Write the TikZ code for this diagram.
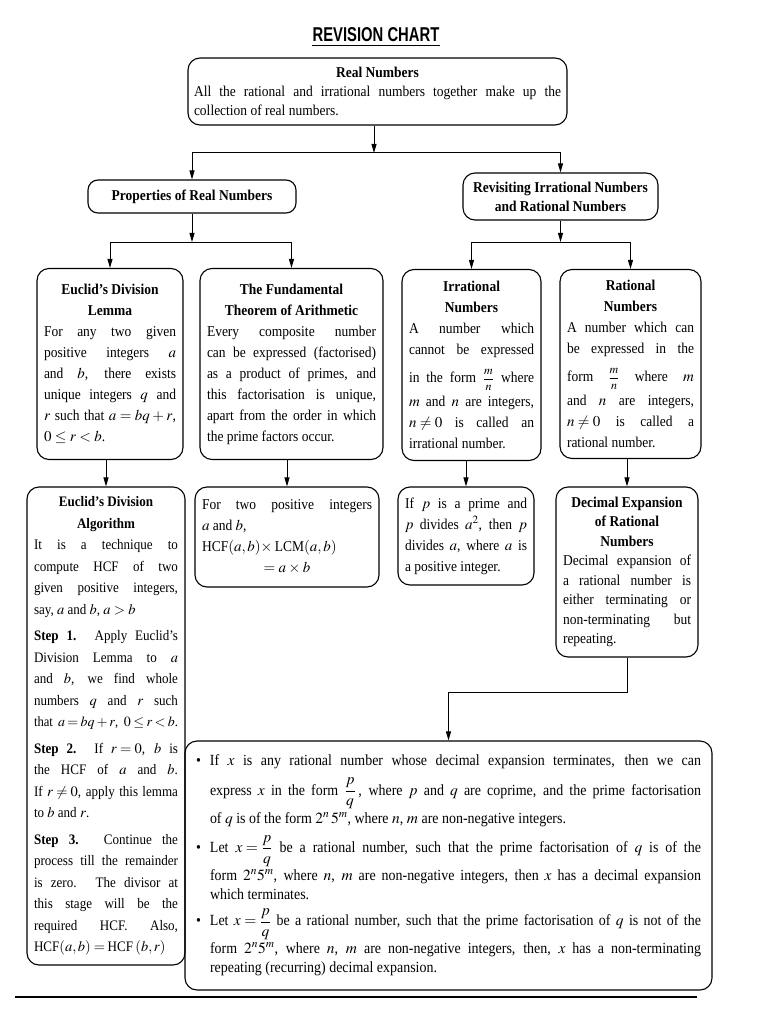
\documentclass[tikz,border=0pt]{standalone}
\usepackage{amsmath}
\usepackage{mathptmx}
\usepackage{fontspec}
\setmainfont{Liberation Serif}[FakeStretch=0.9]
\setsansfont{Liberation Sans}
\usepackage{graphicx}
\usetikzlibrary{arrows.meta}
\hyphenpenalty=10000
\tolerance=9999
\parindent=0pt
\medmuskip=3mu
\thickmuskip=4mu
\newcommand\bodyf{\fontsize{15}{21}\selectfont}
\newcommand\fstrut{\rule[-16pt]{0pt}{41pt}}
\newcommand\mstrut{\rule[-13pt]{0pt}{37pt}}
\newcommand\sfr[2]{{\fontsize{12}{12}\selectfont$\displaystyle\frac{#1}{#2}$}}
\newcommand\mybul{\noindent\hangindent=14pt\hangafter=1\makebox[14pt][l]{\textbullet}}
\tikzset{
  box/.style={draw, line width=1.1pt, rounded corners=12pt, inner xsep=7pt, inner ysep=4pt, align=justify, font=\bodyf},
  conn/.style={line width=1pt, -{Triangle[length=9pt,width=5pt]}}
}
\begin{document}
\begin{tikzpicture}[x=1pt,y=-1pt]
\useasboundingbox (0,0) rectangle (768,1024);
\fill[white] (0,0) rectangle (768,1024);

% title
\node[inner sep=0pt, anchor=base, font=\fontsize{20}{20}\selectfont\sffamily\bfseries] (title) at (376,42) {\scalebox{0.74}[1]{REVISION CHART}};
\draw[line width=1.3pt] ([yshift=-3pt]title.south west) -- ([yshift=-3pt]title.south east);

% level 1
\node[box, inner xsep=6pt, minimum width=379pt, minimum height=67pt, text width=367pt, font=\fontsize{15}{19}\selectfont] (real) at (377.5,91.5)
{{\centering\bfseries Real Numbers\par}All the rational and irrational numbers together make up the\linebreak collection of real numbers.};

% level 2
\node[box, rounded corners=10pt, minimum width=208pt, minimum height=33pt, align=center, font=\bodyf\bfseries] (props) at (192,196.5) {Properties of Real Numbers};
\node[box, inner xsep=2pt, minimum width=195pt, minimum height=47pt, align=center, font=\fontsize{15}{19}\selectfont\bfseries] (revis) at (560.5,196.5) {Revisiting Irrational Numbers\\and Rational Numbers};

% level 3
\node[box, minimum width=146pt, minimum height=191pt, text width=132pt] (lemma) at (110,364)
{{\centering\bfseries Euclid’s Division\\Lemma\par}
For any two given\linebreak positive integers $a$\linebreak and $b$, there exists\linebreak unique integers $q$ and\linebreak $r$ such that $a=bq+r$,\linebreak $0\le r<b$.};

\node[box, minimum width=183pt, minimum height=191pt, text width=169pt] (fund) at (291.5,364)
{{\centering\bfseries The Fundamental\\Theorem of Arithmetic\par}
Every composite number\linebreak can be expressed (factorised)\linebreak as a product of primes, and\linebreak this factorisation is unique,\linebreak apart from the order in which\linebreak the prime factors occur.};

\node[box, minimum width=139pt, minimum height=191pt, text width=125pt] (irr) at (471.5,365)
{{\centering\bfseries Irrational\\Numbers\par}
A number which\linebreak cannot be expressed\linebreak in the form\mstrut\ \sfr{m}{n} where\linebreak $m$ and $n$ are integers,\linebreak $n\neq 0$ is called an\linebreak irrational number.};

\node[box, minimum width=141pt, minimum height=189pt, text width=127pt] (rat) at (630.5,364)
{{\centering\bfseries Rational\\Numbers\par}
A number which can\linebreak be expressed in the\linebreak form\mstrut\ \sfr{m}{n} where $m$\linebreak and $n$ are integers,\linebreak $n\neq 0$ is called a\linebreak rational number.};

% level 4
\node[box, minimum width=158pt, minimum height=478pt, text width=144pt, font=\fontsize{14.5}{21.5}\selectfont] (algo) at (106,726)
{{\centering\bfseries Euclid’s Division\\Algorithm\par}
It is a technique to\linebreak compute HCF of two\linebreak given positive integers,\linebreak say, $a$ and $b$, $a>b$\par\vspace{5pt}
\textbf{Step 1.} Apply Euclid’s\linebreak Division Lemma to $a$\linebreak and $b$, we find whole\linebreak numbers $q$ and $r$ such\linebreak {\fontsize{14}{21.5}\selectfont\thickmuskip=3mu\medmuskip=2.5mu\parfillskip=0pt that $a=bq+r$, $0\le r<b$.\par}\vspace{5pt}
\textbf{Step 2.} If $r=0$, $b$ is\linebreak the HCF of $a$ and $b$.\linebreak If $r\neq 0$, apply this lemma\linebreak to $b$ and $r$.\par\vspace{5pt}
\textbf{Step 3.} Continue the\linebreak process till the remainder\linebreak is zero. The divisor at\linebreak this stage will be the\linebreak required HCF. Also,\linebreak HCF$(a,b)=$\,HCF\,$(b,r)$\par};

\node[box, minimum width=184pt, minimum height=100pt, text width=170pt] (hcf) at (287,537)
{For two positive integers\linebreak $a$ and $b$,\par
HCF$(a,b)\times$\,LCM$(a,b)$\par
{\centering $=a\times b$\par}};

\node[box, minimum width=136pt, minimum height=98pt, text width=122pt] (prime) at (466,536)
{If $p$ is a prime and\linebreak $p$ divides $a^2$, then $p$\linebreak divides $a$, where $a$ is\linebreak a positive integer.};

\node[box, minimum width=142pt, minimum height=170pt, text width=128pt, font=\fontsize{15}{19.5}\selectfont] (dec) at (627,572)
{{\centering\bfseries Decimal Expansion\\of Rational\\Numbers\par}
Decimal expansion of\linebreak a rational number is\linebreak either terminating or\linebreak non-terminating but\linebreak repeating.};

% bottom box
\node[box, minimum width=527pt, minimum height=249pt, inner xsep=11pt, text width=505pt, font=\fontsize{15.5}{19}\selectfont] (big) at (448.5,865.5)
{\mybul If $x$ is any rational number whose decimal expansion terminates, then we can\linebreak
express $x$ in the form\fstrut\ $\dfrac{p}{q}$\,, where $p$ and $q$ are coprime, and the prime factorisation\linebreak
of $q$ is of the form $2^n\,5^m$, where $n$, $m$ are non-negative integers.\par
\mybul Let\fstrut\ $x=\dfrac{p}{q}$ be a rational number, such that the prime factorisation of $q$ is of the\linebreak
form $2^n5^m$, where $n$, $m$ are non-negative integers, then $x$ has a decimal expansion\linebreak
which terminates.\par
\mybul Let\fstrut\ $x=\dfrac{p}{q}$ be a rational number, such that the prime factorisation of $q$ is not of the\linebreak
form $2^n5^m$, where $n$, $m$ are non-negative integers, then, $x$ has a non-terminating\linebreak
repeating (recurring) decimal expansion.\par};

% connectors
\coordinate (j1) at (374,153);
\coordinate (j2) at (192,242);
\coordinate (j3) at (560.5,242);
\coordinate (j4) at (627,692);
\draw[conn] (real.south -| j1) -- (j1);
\draw[conn] (j1) -| (props.north);
\draw[conn] (j1) -| (revis.north);
\draw[conn] (props.south) -- (j2);
\draw[conn] (j2) -| (lemma.north);
\draw[conn] (j2) -| (fund.north);
\draw[conn] (revis.south) -- (j3);
\draw[conn] (j3) -| (irr.north);
\draw[conn] (j3) -| (rat.north);
\draw[conn] (algo.north |- lemma.south) -- (algo.north);
\draw[conn] (hcf.north |- fund.south) -- (hcf.north);
\draw[conn] (prime.north |- irr.south) -- (prime.north);
\draw[conn] (dec.north |- rat.south) -- (dec.north);
\draw[conn] (dec.south) -- (j4) -| (big.north);

% bottom rule
\draw[line width=1.6pt] (15,997) -- (697,997);
\end{tikzpicture}
\end{document}
